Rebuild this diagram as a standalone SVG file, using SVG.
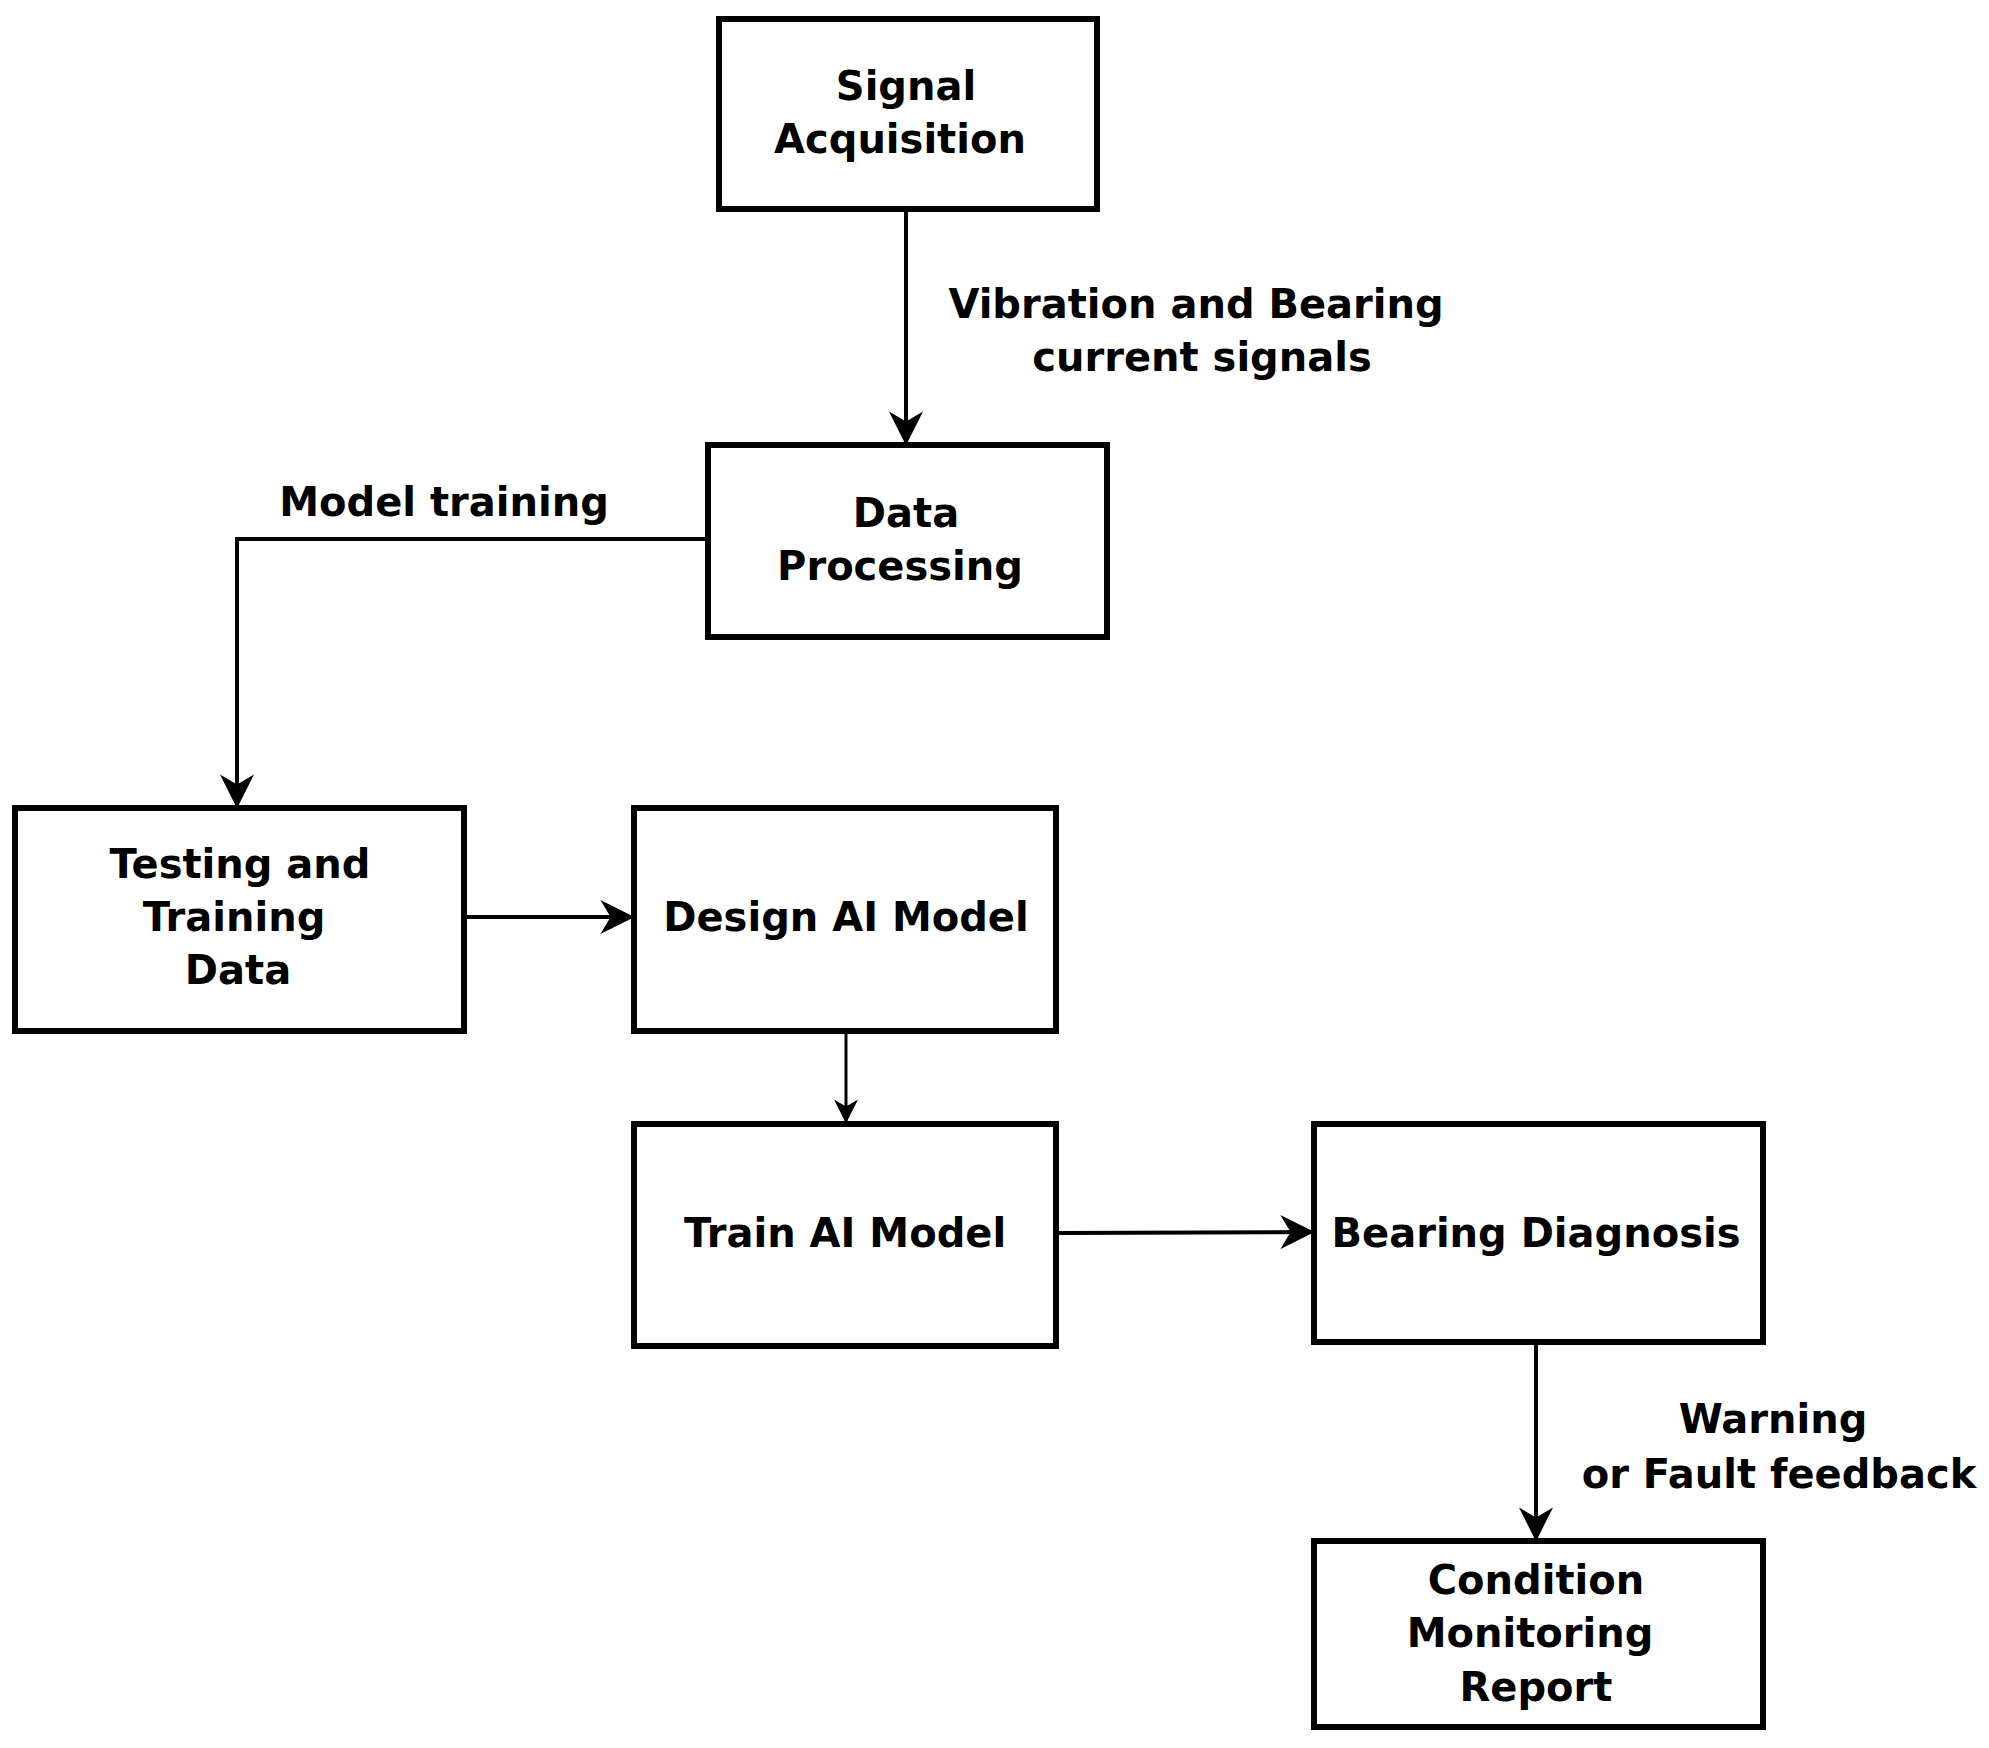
<svg xmlns="http://www.w3.org/2000/svg" width="1989" height="1748" viewBox="0 0 1989 1748">
<style>
.box{fill:#fff;stroke:#000;stroke-width:6}
.t{font-family:"DejaVu Sans",Verdana,sans-serif;font-weight:bold;font-size:40px;text-anchor:middle;fill:#000}
.c{fill:none;stroke:#000;stroke-width:4}
</style>
<defs>
<marker id="a" viewBox="0 0 20 20" refX="18" refY="10" markerWidth="34" markerHeight="34" markerUnits="userSpaceOnUse" orient="auto">
<path d="M0,0 L20,10 L0,20 L6,10 Z" fill="#000"/>
</marker>
<marker id="a2" viewBox="0 0 20 20" refX="18" refY="10" markerWidth="24" markerHeight="24" markerUnits="userSpaceOnUse" orient="auto">
<path d="M0,0 L20,10 L0,20 L6,10 Z" fill="#000"/>
</marker>
</defs>
<rect width="1989" height="1748" fill="#fff"/>
<g id="connectors">
<line class="c" x1="906" y1="212" x2="906" y2="442" marker-end="url(#a)"/>
<polyline class="c" points="708,539 237,539 237,805" marker-end="url(#a)"/>
<line class="c" x1="467" y1="917" x2="631" y2="917" marker-end="url(#a)"/>
<line class="c" x1="846" y1="1034" x2="846" y2="1121" style="stroke-width:3" marker-end="url(#a2)"/>
<line class="c" x1="1059" y1="1233" x2="1311" y2="1232" marker-end="url(#a)"/>
<line class="c" x1="1536" y1="1345" x2="1536" y2="1538" marker-end="url(#a)"/>
<text class="t" x="1196" y="318">Vibration and Bearing</text>
<text class="t" x="1202" y="371">current signals</text>
<text class="t" x="444" y="516">Model training</text>
<text class="t" x="1773" y="1433">Warning</text>
<text class="t" x="1779" y="1488">or Fault feedback</text>
</g>
<g id="signal"><rect class="box" x="719" y="19" width="378" height="190"/>
<text class="t" x="906" y="100">Signal</text><text class="t" x="900" y="153">Acquisition</text></g>
<g id="processing"><rect class="box" x="708" y="445" width="399" height="192"/>
<text class="t" x="906" y="527">Data</text><text class="t" x="900" y="580">Processing</text></g>
<g id="testing"><rect class="box" x="15" y="808" width="449" height="223"/>
<text class="t" x="240" y="878">Testing and</text><text class="t" x="234" y="931">Training</text><text class="t" x="238" y="984">Data</text></g>
<g id="design"><rect class="box" x="634" y="808" width="422" height="223"/>
<text class="t" x="846" y="931">Design AI Model</text></g>
<g id="train"><rect class="box" x="634" y="1124" width="422" height="222"/>
<text class="t" x="845" y="1247">Train AI Model</text></g>
<g id="bearing"><rect class="box" x="1314" y="1124" width="449" height="218"/>
<text class="t" x="1536" y="1247">Bearing Diagnosis</text></g>
<g id="report"><rect class="box" x="1314" y="1541" width="449" height="186"/>
<text class="t" x="1536" y="1594">Condition</text><text class="t" x="1530" y="1647">Monitoring</text><text class="t" x="1536" y="1701">Report</text></g>
</svg>
